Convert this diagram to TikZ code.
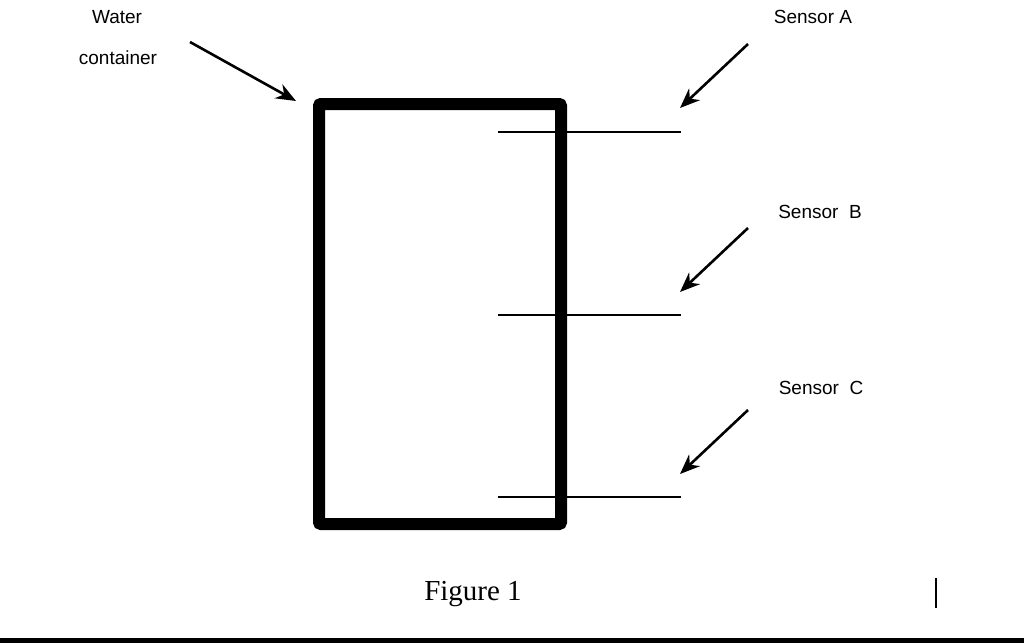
\documentclass[tikz,border=0pt]{standalone}
\usepackage{fontspec}
\usetikzlibrary{arrows.meta}
\setmainfont{Liberation Serif}
\newfontfamily\lab{Liberation Sans}
\begin{document}
\begin{tikzpicture}[x=1pt,y=-1pt,
  lbl/.style={font=\lab\fontsize{19}{22}\selectfont, inner sep=0},
  arr/.style={-{Stealth[length=20pt,width=16pt]}, line width=2.6pt},
  sens/.style={line width=2pt}]
\useasboundingbox (0,0) rectangle (1024,643);
\fill[white] (0,0) rectangle (1024,643);
\draw[line width=12pt, rounded corners=2pt] (319,104) rectangle (561,524);
\coordinate (a1) at (498,132); \coordinate (a2) at (681,132);
\coordinate (b1) at (498,315); \coordinate (b2) at (681,315);
\coordinate (c1) at (498,497); \coordinate (c2) at (681,497);
\draw[sens] (a1) -- (a2); \draw[sens] (b1) -- (b2); \draw[sens] (c1) -- (c2);
\node[lbl] (w1) at (117,17) {Water};
\node[lbl] (w2) at (118,58) {container};
\node[lbl] (sa) at (813,17) {Sensor A};
\node[lbl] (sb) at (820,212) {Sensor\ \ B};
\node[lbl] (sc) at (821,388) {Sensor\ \ C};
\coordinate (wa) at (190,42); \coordinate (wb) at (296,101);
\draw[arr] (wa) -- (wb);
\coordinate (A0) at (748,44); \coordinate (A1) at (680,108);
\coordinate (B0) at (748,228); \coordinate (B1) at (680,292);
\coordinate (C0) at (748,410); \coordinate (C1) at (680,474);
\draw[arr] (A0) -- (A1); \draw[arr] (B0) -- (B1); \draw[arr] (C0) -- (C1);
\node[font=\fontsize{29}{33}\selectfont, inner sep=0] (fig) at (473,594) {Figure 1};
\coordinate (v1) at (936,578); \coordinate (v2) at (936,608);
\draw[line width=2.5pt] (v1) -- (v2);
\fill[black] (0,638) rectangle (1024,643);
\end{tikzpicture}
\end{document}
